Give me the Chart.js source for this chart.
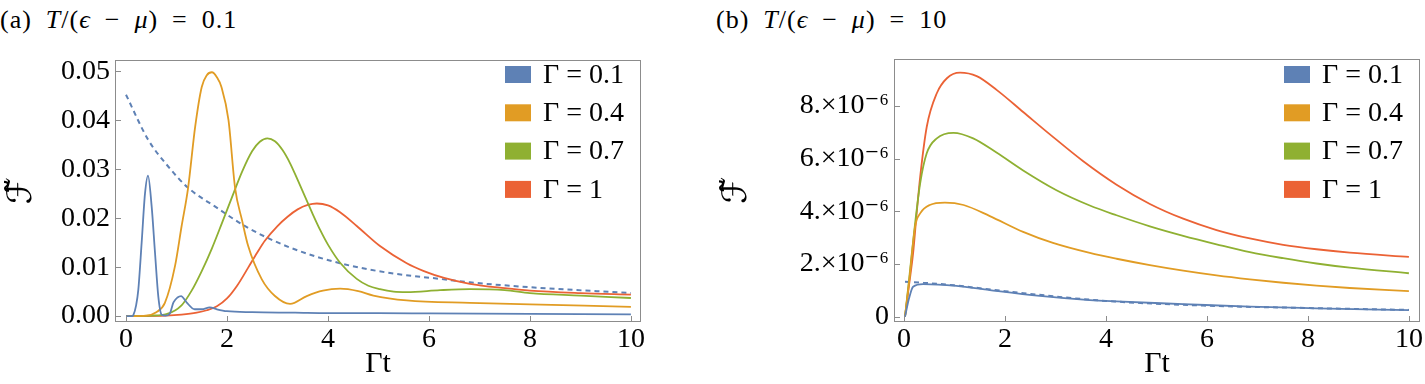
<!DOCTYPE html>
<html><head><meta charset="utf-8">
<script src="https://cdn.jsdelivr.net/npm/chart.js@4.4.1/dist/chart.umd.min.js"></script>
<style>
body{margin:0;background:#fff;width:1425px;height:384px;overflow:hidden;position:relative;font-family:'Liberation Serif','DejaVu Serif',serif}
.title{position:absolute;top:5px;font-size:26px;font-weight:normal;white-space:nowrap;color:#000;letter-spacing:1px}
#ca{position:absolute;left:0;top:0}
#cb{position:absolute;left:700px;top:0}
</style></head><body>
<div class="title" style="left:0">(a)&ensp;<i>T</i>/(<i>ϵ</i>&ensp;−&ensp;<i>μ</i>)&ensp;=&ensp;0.1</div>
<div class="title" style="left:716px">(b)&ensp;<i>T</i>/(<i>ϵ</i>&ensp;−&ensp;<i>μ</i>)&ensp;=&ensp;10</div>
<canvas id="ca" width="700" height="384"></canvas>
<canvas id="cb" width="725" height="384"></canvas>
<script>
// ---------- labels / ticks ----------
const legendLabels = ['Γ = 0.1', 'Γ = 0.4', 'Γ = 0.7', 'Γ = 1'];
const seriesColors = ['#5E81B5', '#E19C24', '#8FB032', '#EB6235'];
const xTicks = [0, 2, 4, 6, 8, 10];
const yTicksA = [0, 0.01, 0.02, 0.03, 0.04, 0.05];
const yTickLabelsA = ['0.00', '0.01', '0.02', '0.03', '0.04', '0.05'];
const yTicksB = [0, 2e-6, 4e-6, 6e-6, 8e-6];
const yTickLabelsB = ['0', '2.×10⁻⁶', '4.×10⁻⁶', '6.×10⁻⁶', '8.×10⁻⁶'];

// ---------- panel (a): T/(eps-mu) = 0.1 ----------
const a01_t = [0, 0.12, 0.145, 0.2, 0.244, 0.31, 0.376, 0.436, 0.508, 0.574, 0.64, 0.706, 0.78, 0.86, 0.94, 1.02, 1.09, 1.2, 1.36, 1.5, 1.66, 1.8, 2.0, 2.5, 3.35, 4, 5, 6, 8, 10];
const a01_v = [0, 0, 0.0002, 0.0022, 0.0054, 0.015, 0.025, 0.0287, 0.0224, 0.013, 0.004, 0.0003, 0.0001, 0.0004, 0.0028, 0.0038, 0.0041, 0.0028, 0.0014, 0.0014, 0.0018, 0.0014, 0.001, 0.0008, 0.0007, 0.0006, 0.0006, 0.00055, 0.00045, 0.00035];
const a04_t = [0, 0.4, 0.6, 0.77, 0.97, 1.10, 1.23, 1.37, 1.50, 1.60, 1.70, 1.80, 1.89, 2.03, 2.16, 2.30, 2.42, 2.69, 2.95, 3.25, 3.58, 3.9, 4.24, 4.6, 4.9, 5.56, 6.81, 8, 10];
const a04_v = [0, 0.0001, 0.0008, 0.0027, 0.0102, 0.0183, 0.0262, 0.0387, 0.0468, 0.0492, 0.0498, 0.0488, 0.0468, 0.040, 0.0262, 0.0195, 0.0143, 0.0075, 0.0041, 0.0025, 0.0041, 0.0052, 0.0056, 0.0051, 0.0042, 0.0032, 0.0027, 0.0024, 0.0019];
const a07_t = [0, 0.5, 0.8, 1.1, 1.3, 1.5, 1.7, 1.9, 2.1, 2.3, 2.5, 2.65, 2.8, 2.95, 3.1, 3.25, 3.4, 3.55, 3.7, 3.85, 4.0, 4.24, 4.57, 4.8, 5.03, 5.3, 5.56, 6.22, 6.81, 7.5, 8, 9, 10];
const a07_v = [0, 0.0001, 0.0004, 0.0022, 0.0052, 0.0092, 0.0138, 0.019, 0.0243, 0.0295, 0.0337, 0.0356, 0.0363, 0.0357, 0.0339, 0.0312, 0.0278, 0.0243, 0.0208, 0.0175, 0.0146, 0.0109, 0.0076, 0.0062, 0.0055, 0.005, 0.0049, 0.0053, 0.0055, 0.0053, 0.0047, 0.0042, 0.0037];
const a10_t = [0, 0.8, 1.1, 1.4, 1.6, 1.8, 2.0, 2.2, 2.42, 2.6, 2.75, 3.0, 3.2, 3.4, 3.6, 3.78, 4.0, 4.24, 4.57, 5.03, 5.56, 5.9, 6.3, 6.81, 7.5, 8, 9, 10];
const a10_v = [0, 0.0001, 0.0003, 0.0007, 0.0012, 0.002, 0.0036, 0.0062, 0.0099, 0.013, 0.0154, 0.0184, 0.0203, 0.0218, 0.0227, 0.023, 0.0226, 0.0212, 0.0184, 0.0143, 0.0108, 0.0092, 0.0078, 0.0066, 0.0057, 0.0052, 0.0047, 0.0044];
const aDash_t = [0, 0.44, 0.84, 1.23, 1.76, 2.42, 3.25, 4.24, 5.23, 6.22, 6.81, 8, 10];
const aDash_v = [0.0452, 0.036, 0.0305, 0.0262, 0.0224, 0.018, 0.014, 0.0108, 0.0088, 0.0076, 0.0069, 0.0059, 0.0047];

// ---------- panel (b): T/(eps-mu) = 10 ----------
const b01_t = [0.02, 0.1, 0.18, 0.38, 1.04, 1.70, 2.69, 3.68, 4.21, 5.53, 6.85, 8.17, 10];
const b01_v = [0, 0.7e-6, 1.14e-6, 1.24e-6, 1.17e-6, 1.01e-6, 0.79e-6, 0.63e-6, 0.58e-6, 0.48e-6, 0.38e-6, 0.32e-6, 0.25e-6];
const b04_t = [0.02, 0.1, 0.22, 0.32, 0.51, 0.81, 1.18, 1.70, 2.36, 2.95, 3.68, 4.21, 4.87, 5.53, 6.19, 6.85, 7.51, 8.17, 8.83, 10];
const b04_v = [0, 1.3e-6, 3.42e-6, 3.92e-6, 4.24e-6, 4.33e-6, 4.24e-6, 3.82e-6, 3.22e-6, 2.8e-6, 2.42e-6, 2.2e-6, 1.96e-6, 1.75e-6, 1.57e-6, 1.42e-6, 1.29e-6, 1.18e-6, 1.09e-6, 0.97e-6];
const b07_t = [0.02, 0.1, 0.2, 0.32, 0.45, 0.65, 0.98, 1.37, 1.84, 2.36, 3.02, 3.68, 4.21, 4.87, 5.53, 6.19, 6.85, 7.51, 8.17, 8.83, 10];
const b07_v = [0, 1.4e-6, 3.2e-6, 5.06e-6, 6.2e-6, 6.77e-6, 6.98e-6, 6.77e-6, 6.22e-6, 5.55e-6, 4.8e-6, 4.22e-6, 3.85e-6, 3.43e-6, 3.07e-6, 2.75e-6, 2.45e-6, 2.22e-6, 2.02e-6, 1.86e-6, 1.65e-6];
const b10_t = [0.02, 0.1, 0.18, 0.25, 0.32, 0.45, 0.65, 0.85, 1.11, 1.44, 1.84, 2.36, 2.89, 3.55, 4.21, 4.87, 5.53, 6.19, 6.85, 7.51, 8.17, 8.83, 10];
const b10_v = [0, 1.2e-6, 2.4e-6, 3.9e-6, 5.3e-6, 7.2e-6, 8.48e-6, 9.05e-6, 9.26e-6, 9.13e-6, 8.6e-6, 7.77e-6, 6.92e-6, 5.9e-6, 5.01e-6, 4.28e-6, 3.72e-6, 3.29e-6, 2.97e-6, 2.73e-6, 2.56e-6, 2.43e-6, 2.27e-6];
const bDash_t = [0.02, 0.38, 1.0, 2.0, 4.0, 6.0, 8.0, 10];
const bDash_v = [1.33e-6, 1.29e-6, 1.19e-6, 0.97e-6, 0.6e-6, 0.42e-6, 0.33e-6, 0.26e-6];

// ---------- helpers ----------
const pts = (t, v) => t.map((x, i) => ({x: x, y: v[i]}));
const serif = "'Liberation Serif','DejaVu Serif',serif";
const frameColor = '#8c8c8c';

const framePlugin = {
  id: 'frameTicks',
  afterDraw(chart) {
    const ctx = chart.ctx;
    const {left, top, right, bottom} = chart.chartArea;
    const o = chart.options.plugins.inlineLegend;
    ctx.save();
    ctx.strokeStyle = frameColor;
    ctx.lineWidth = 1;
    ctx.strokeRect(Math.round(left) + 0.5, Math.round(top) + 0.5, Math.round(right - left) - 1, Math.round(bottom - top) - 1);
    ctx.beginPath();
    chart.scales.x.ticks.forEach(tk => {
      const px = Math.round(chart.scales.x.getPixelForValue(tk.value)) + 0.5;
      ctx.moveTo(px, bottom); ctx.lineTo(px, bottom - 6);
    });
    chart.scales.y.ticks.forEach(tk => {
      const py = Math.round(chart.scales.y.getPixelForValue(tk.value)) + 0.5;
      ctx.moveTo(left, py); ctx.lineTo(left + 6, py);
    });
    ctx.stroke();
    // legend inside the frame
    ctx.font = '28px ' + serif;
    ctx.textBaseline = 'middle';
    ctx.textAlign = 'left';
    o.labels.forEach((lab, i) => {
      const cy = o.rowY0 + i * o.rowGap;
      ctx.fillStyle = o.colors[i];
      ctx.fillRect(o.boxX, cy - 8.5, 26, 17);
      ctx.fillStyle = '#000';
      ctx.fillText(lab, o.textX, cy + 1);
    });
    ctx.restore();
  }
};

function makeChart(id, sets, dash, xr, yr, yTicks, yLabels, pad, yWidth, titlePadTop, legendPos) {
  const datasets = sets.map((s, i) => ({
    data: s, borderColor: seriesColors[i], borderWidth: 1.8, fill: false
  }));
  datasets.push({data: dash, borderColor: seriesColors[0], borderWidth: 2, borderDash: [5, 4], fill: false});
  return new Chart(document.getElementById(id), {
    type: 'line',
    data: {datasets: datasets},
    options: {
      responsive: false, animation: false, devicePixelRatio: 1,
      layout: {padding: pad},
      elements: {point: {radius: 0}, line: {cubicInterpolationMode: 'monotone'}},
      plugins: {
        legend: {display: false}, tooltip: {enabled: false},
        inlineLegend: Object.assign({labels: legendLabels, colors: seriesColors}, legendPos)
      },
      scales: {
        x: {
          type: 'linear', min: xr[0], max: xr[1],
          afterBuildTicks: s => { s.ticks = xTicks.map(v => ({value: v})); },
          afterFit: s => { s.height = 62; },
          grid: {display: false, drawTicks: false}, border: {display: false},
          ticks: {padding: 1, color: '#000', font: {family: serif, size: 28}, maxRotation: 0, autoSkip: false,
                  callback: (v) => String(v)},
          title: {display: true, text: 'Γt', color: '#000', font: {family: serif, size: 30}, padding: {top: 0, bottom: 2}}
        },
        y: {
          type: 'linear', min: yr[0], max: yr[1],
          afterBuildTicks: s => { s.ticks = yTicks.map(v => ({value: v})); },
          afterFit: s => { s.width = yWidth; },
          grid: {display: false, drawTicks: false}, border: {display: false},
          ticks: {padding: 5, color: '#000', font: {family: serif, size: 28}, autoSkip: false,
                  callback: (v, i) => yLabels[i]},
          title: {display: true, text: 'ℱ̃', color: '#000', font: {family: "'DejaVu Serif','DejaVu Sans',serif", size: 34}, padding: {top: titlePadTop, bottom: 0}}
        }
      }
    },
    plugins: [framePlugin]
  });
}

makeChart('ca',
  [pts(a01_t, a01_v), pts(a04_t, a04_v), pts(a07_t, a07_v), pts(a10_t, a10_v)],
  pts(aDash_t, aDash_v),
  [-0.218, 10.2], [-0.0012, 0.0523], yTicksA, yTickLabelsA,
  {top: 60, right: 59, bottom: 0, left: 0}, 115, 2,
  {boxX: 505, textX: 543, rowY0: 74.5, rowGap: 38.3});

makeChart('cb',
  [pts(b01_t, b01_v), pts(b04_t, b04_v), pts(b07_t, b07_v), pts(b10_t, b10_v)],
  pts(bDash_t, bDash_v),
  [-0.198, 10.22], [-0.2e-6, 9.78e-6], yTicksB, yTickLabelsB,
  {top: 59, right: 5, bottom: 0, left: 0}, 194, 17,
  {boxX: 584, textX: 622, rowY0: 74.5, rowGap: 38.3});
</script>
</body></html>
